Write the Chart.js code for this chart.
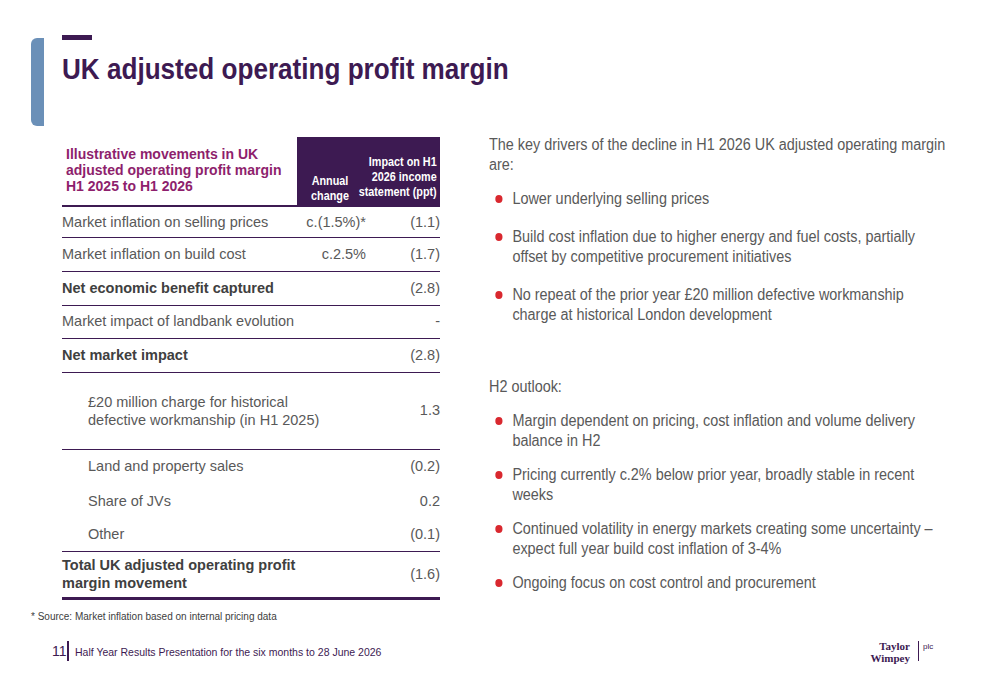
<!DOCTYPE html>
<html><head><meta charset="utf-8">
<script src="https://cdn.jsdelivr.net/npm/chart.js@4"></script>
<style>
body{margin:0;width:1000px;height:685px;position:relative;font-family:Arial,"Liberation Sans",sans-serif;background:#fff;overflow:hidden}
.abs{position:absolute}
#tbl{position:absolute;left:62px;top:137px;width:378px}
.row{position:absolute;left:0;width:378px;color:#595959;font-size:14.5px;border-bottom:1px solid #3d1a52}
.row span{position:absolute;white-space:nowrap}
.b{font-weight:bold;color:#404040}
#right{left:489px;top:135px;width:525px;color:#595959;font-size:16px;line-height:20px;white-space:nowrap;transform:scaleX(0.9);transform-origin:0 0}
.bl{position:relative;padding-left:26px;margin-top:14px}
.bl:before{content:"";position:absolute;left:7px;top:6px;width:8px;height:8px;border-radius:50%;background:#d9282f}
.hd{position:absolute;color:#fff;font-weight:bold;font-size:12px;line-height:15px;white-space:nowrap;transform:scaleX(0.9)}
</style></head><body>
<div class="abs" style="left:31px;top:38px;width:13px;height:88px;background:#6b90b8;border-radius:6px 0 0 6px"></div>
<div class="abs" style="left:62px;top:35px;width:30px;height:5px;background:#3d1a52"></div>
<div class="abs" style="left:62px;top:53px;font-size:29px;font-weight:bold;color:#3d1a52;white-space:nowrap;transform:scaleX(0.9);transform-origin:0 0">UK adjusted operating profit margin</div>

<div id="tbl"></div>
<canvas id="c" class="abs" style="left:0;top:0" width="1" height="1"></canvas>

<div id="right" class="abs">
<div>The key drivers of the decline in H1 2026 UK adjusted operating margin<br>are:</div>
<div class="bl">Lower underlying selling prices</div>
<div class="bl" style="margin-top:18px">Build cost inflation due to higher energy and fuel costs, partially<br>offset by competitive procurement initiatives</div>
<div class="bl" style="margin-top:18px">No repeat of the prior year £20 million defective workmanship<br>charge at historical London development</div>
<div style="margin-top:52px">H2 outlook:</div>
<div class="bl" style="margin-top:14px">Margin dependent on pricing, cost inflation and volume delivery<br>balance in H2</div>
<div class="bl" style="margin-top:14px">Pricing currently c.2% below prior year, broadly stable in recent<br>weeks</div>
<div class="bl" style="margin-top:14px">Continued volatility in energy markets creating some uncertainty –<br>expect full year build cost inflation of 3-4%</div>
<div class="bl" style="margin-top:14px">Ongoing focus on cost control and procurement</div>
</div>

<div class="abs" style="left:31px;top:611px;font-size:10px;color:#404040">* Source: Market inflation based on internal pricing data</div>
<div class="abs" style="left:52px;top:643px;font-size:14px;color:#3d1a52">11</div>
<div class="abs" style="left:67px;top:641px;width:2px;height:20px;background:#3d1a52"></div>
<div class="abs" style="left:75px;top:646px;font-size:10.5px;color:#3d1a52">Half Year Results Presentation for the six months to 28 June 2026</div>
<div class="abs" style="left:860px;top:640px;width:50px;font-size:11px;line-height:12px;color:#3d1a52;font-family:'Liberation Serif',serif;font-weight:bold;text-align:right">Taylor</div>
<div class="abs" style="left:860px;top:652px;width:50px;font-size:11px;line-height:12px;color:#3d1a52;font-family:'Liberation Serif',serif;font-weight:bold;text-align:right">Wimpey</div>
<div class="abs" style="left:918px;top:641px;width:1px;height:20px;background:#3d1a52"></div>
<div class="abs" style="left:923px;top:642px;font-size:8px;color:#3d1a52">plc</div>

<script>
const rows = [
  {label:'Market inflation on selling prices', annual:'c.(1.5%)*', impact:'(1.1)', top:207, h:30},
  {label:'Market inflation on build cost', annual:'c.2.5%', impact:'(1.7)', top:237, h:34},
  {label:'Net economic benefit captured', annual:'', impact:'(2.8)', top:271, h:34, bold:true},
  {label:'Market impact of landbank evolution', annual:'', impact:'-', top:305, h:33},
  {label:'Net market impact', annual:'', impact:'(2.8)', top:338, h:34, bold:true},
  {label:'£20 million charge for historical<br>defective workmanship (in H1 2025)', annual:'', impact:'1.3', top:372, h:77, indent:true},
  {label:'Land and property sales', annual:'', impact:'(0.2)', top:449, h:35, indent:true, noline:true},
  {label:'Share of JVs', annual:'', impact:'0.2', top:484, h:34, indent:true, noline:true},
  {label:'Other', annual:'', impact:'(0.1)', top:518, h:33, indent:true},
  {label:'Total UK adjusted operating profit<br>margin movement', annual:'', impact:'(1.6)', top:551, h:46, bold:true, thick:true}
];
const tbl = document.getElementById('tbl');
let html = '<div class="abs" style="left:4px;top:9px;width:230px;font-size:14px;font-weight:bold;color:#8e1f6d;line-height:16px">Illustrative movements in UK adjusted operating profit margin H1 2025 to H1 2026</div>';
html += '<div class="abs" style="left:235px;top:0;width:143px;height:68px;background:#3d1a52"></div>';
html += '<div class="hd" style="left:238px;top:37px;width:60px;text-align:center;transform-origin:50% 0">Annual<br>change</div>';
html += '<div class="hd" style="right:3px;top:18px;text-align:right;transform-origin:100% 0">Impact on H1<br>2026 income<br>statement (ppt)</div>';
html += '<div class="abs" style="left:0;top:68px;width:378px;height:2px;background:#3d1a52"></div>';
rows.forEach(r => {
  const t = r.top - 137;
  const border = r.noline ? 'border-bottom:none;' : (r.thick ? 'border-bottom:3px solid #3d1a52;' : '');
  const single = r.label.indexOf('<br>') < 0;
  const lh = single ? r.h : 18;
  const pad = single ? 0 : (r.h - 36) / 2;
  html += `<div class="row${r.bold ? ' b' : ''}" style="top:${t}px;height:${r.h}px;${border}">
    <span style="left:${r.indent ? 26 : 0}px;top:${pad}px;line-height:${lh}px">${r.label}</span>
    <span style="left:232px;width:72px;text-align:right;top:0;line-height:${r.h}px;font-weight:normal;color:#595959">${r.annual}</span>
    <span style="right:0;top:0;line-height:${r.h}px;font-weight:normal;color:#595959">${r.impact}</span></div>`;
});
tbl.innerHTML = html;
new Chart(document.getElementById('c'), {type:'bar', data:{labels:[], datasets:[]}, options:{responsive:false, animation:false, plugins:{legend:{display:false}}, scales:{x:{display:false}, y:{display:false}}}});
</script>
</body></html>
